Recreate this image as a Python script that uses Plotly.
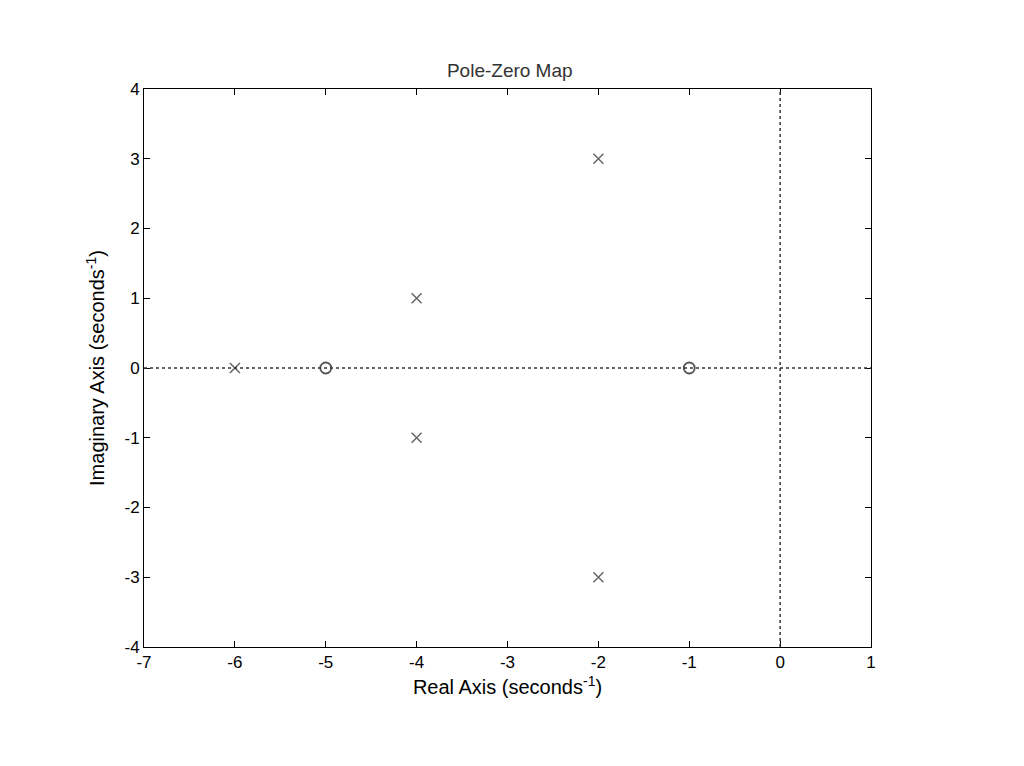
import plotly.graph_objects as go

pole_re = [-6, -4, -4, -2, -2]
pole_im = [0, 1, -1, 3, -3]
zero_re = [-5, -1]
zero_im = [0, 0]
x_ticks = [-7, -6, -5, -4, -3, -2, -1, 0, 1]
y_ticks = [-4, -3, -2, -1, 0, 1, 2, 3, 4]

fig = go.Figure()
fig.add_trace(go.Scatter(x=pole_re, y=pole_im, mode="markers",
    marker=dict(symbol="x-thin", size=10, line=dict(width=1.5, color="#666666"), color="#666666")))
fig.add_trace(go.Scatter(x=zero_re, y=zero_im, mode="markers",
    marker=dict(symbol="circle-open", size=11, line=dict(width=1.8, color="#555555"), color="#555555")))

axis_common = dict(showgrid=False, zeroline=False,
                   showline=True, linecolor="black", linewidth=1, mirror="ticks",
                   ticks="inside", ticklen=6, tickcolor="black",
                   tickfont=dict(family="Liberation Sans, Arial", size=17, color="black"))
fig.update_xaxes(range=[-7, 1], tickvals=x_ticks, ticktext=[str(v) for v in x_ticks], **axis_common,
    title=dict(text="Real Axis (seconds<sup>-1</sup>)", font=dict(family="Liberation Sans, Arial", size=20, color="black"), standoff=8))
fig.update_yaxes(range=[-4, 4], tickvals=y_ticks, ticktext=[str(v) for v in y_ticks], **axis_common,
    title=dict(text="Imaginary Axis (seconds<sup>-1</sup>)", font=dict(family="Liberation Sans, Arial", size=20, color="black"), standoff=14))
fig.add_shape(type="line", x0=-7, x1=1, y0=0, y1=0, xref="x", yref="y", line=dict(color="#333", width=1.5, dash="dot"))
fig.add_shape(type="line", x0=0, x1=0, y0=-4, y1=4, xref="x", yref="y", line=dict(color="#333", width=1.5, dash="dot"))

fig.update_layout(width=1024, height=766, showlegend=False,
    plot_bgcolor="white", paper_bgcolor="white",
    margin=dict(l=136, r=161, t=81, b=127),
    title=dict(text="Pole-Zero Map", x=0.49, xanchor="center", y=0.918, yanchor="middle",
               font=dict(family="Liberation Sans, Arial", size=19, color="#333")))
fig.write_html("out.html")
